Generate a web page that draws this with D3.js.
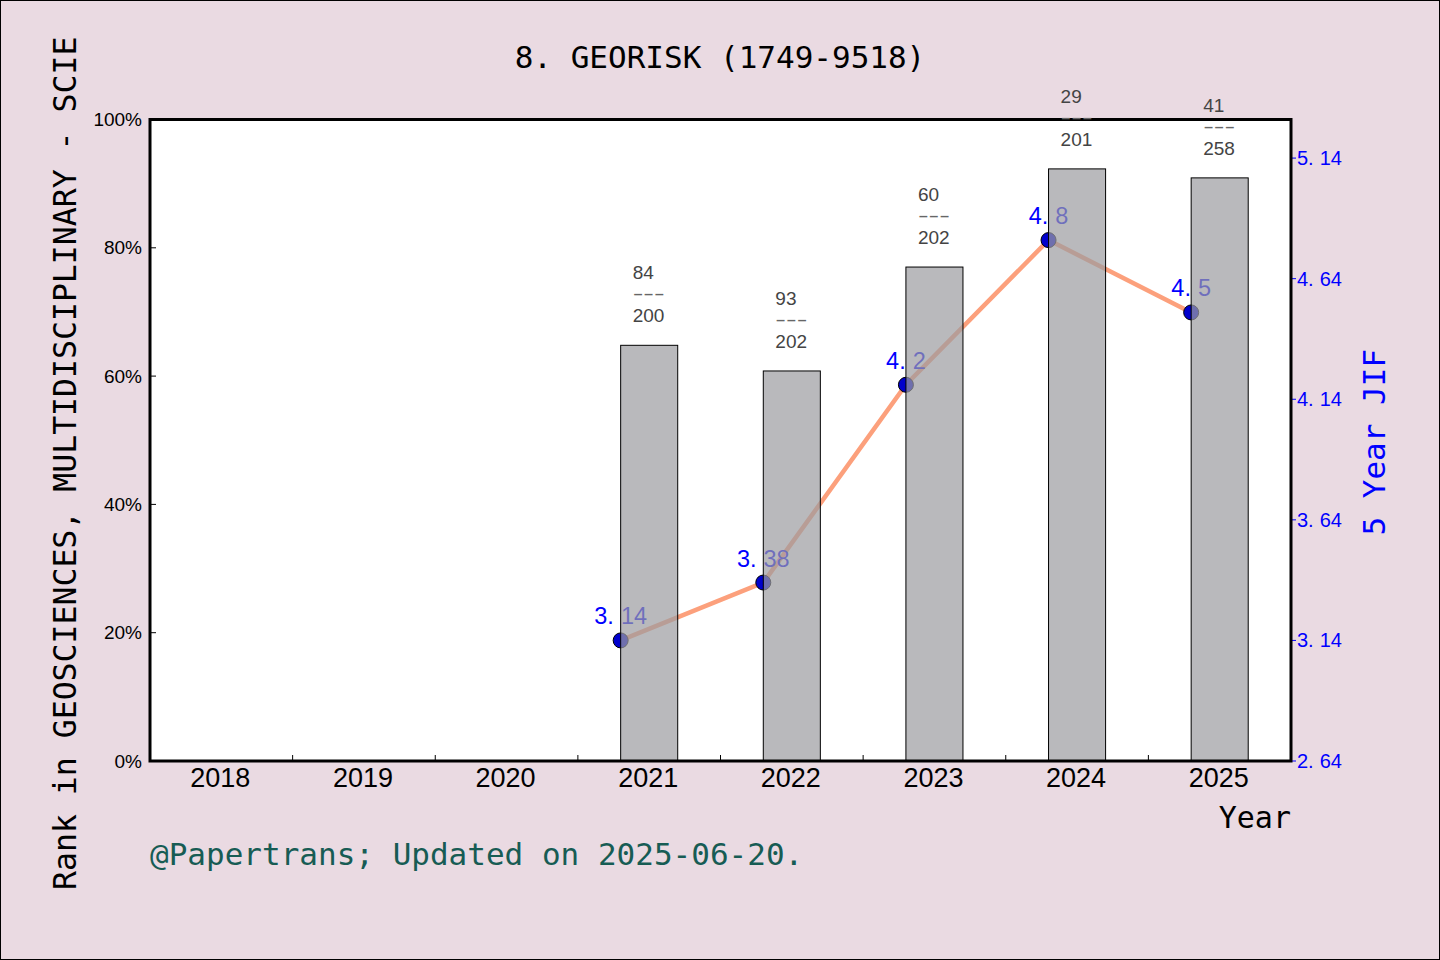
<!DOCTYPE html>
<html>
<head>
<meta charset="utf-8">
<script src="https://cdn.jsdelivr.net/npm/d3@7"></script>
<style>
    html, body { margin: 0; padding: 0; background: #eadae2; }
    svg { display: block; }
</style>
</head>
<body>
<svg id="chart"></svg>
<script>
// data
let years = ['2018', '2019', '2020', '2021', '2022', '2023', '2024', '2025'];
let barYears = ['2021', '2022', '2023', '2024', '2025'];
let rankShare = [0.648, 0.608, 0.770, 0.923, 0.909];
let ranks = ['84', '93', '60', '29', '41'];
let totals = ['200', '202', '202', '201', '258'];
let jif = [3.14, 3.38, 4.2, 4.8, 4.5];
let jifLabels = ['3.14', '3.38', '4.2', '4.8', '4.5'];
let leftTicks = [0, 0.2, 0.4, 0.6, 0.8, 1.0];
let rightTicks = [2.64, 3.14, 3.64, 4.14, 4.64, 5.14];
let rightDomain = [2.64, 5.3];

let W = 1440, H = 960;
let plot = {left: 150, right: 1291, top: 119.5, bottom: 761};
let mono = "'DejaVu Sans Mono', monospace";
let sans = "'Liberation Sans', Arial, sans-serif";

let svg = d3.select('#chart')
    .attr('width', W)
    .attr('height', H);

svg.append('rect')
    .attr('x', 0.5).attr('y', 0.5)
    .attr('width', W - 1).attr('height', H - 1)
    .attr('fill', '#eadae2')
    .attr('stroke', 'black');

svg.append('rect')
    .attr('x', plot.left).attr('y', plot.top)
    .attr('width', plot.right - plot.left)
    .attr('height', plot.bottom - plot.top)
    .attr('fill', 'white');

let xScale = d3.scaleBand()
    .domain(years)
    .range([plot.left, plot.right])
    .padding(0);

let yLeft = d3.scaleLinear().domain([0, 1]).range([plot.bottom, plot.top]);
let yRight = d3.scaleLinear().domain(rightDomain).range([plot.bottom, plot.top]);

let barW = xScale.bandwidth() * 0.4;
let center = d => xScale(d) + xScale.bandwidth() / 2;

// splits "3.14" so the period gets the wide gap seen in the picture
function dotted(sel, str, gap) {
    let parts = str.split('.');
    sel.append('tspan').text(parts[0] + '.');
    if (parts.length > 1) {
        sel.append('tspan').attr('dx', gap).text(parts[1]);
    }
}

// line + points (drawn under the translucent bars)
let pts = barYears.map((y, i) => ({year: y, v: jif[i], label: jifLabels[i]}));
let line = d3.line()
    .x(d => center(d.year) - barW / 2)
    .y(d => yRight(d.v));

svg.append('path')
    .datum(pts)
    .attr('d', line)
    .attr('fill', 'none')
    .attr('stroke', '#fca07c')
    .attr('stroke-width', 4.5);

svg.selectAll('.pt')
    .data(pts)
    .enter().append('circle')
    .attr('class', 'pt')
    .attr('cx', d => center(d.year) - barW / 2)
    .attr('cy', d => yRight(d.v))
    .attr('r', 7.5)
    .attr('fill', '#0000cd')
    .attr('stroke', 'black')
    .attr('stroke-width', 1);

svg.selectAll('.ptlabel')
    .data(pts)
    .enter().append('text')
    .attr('class', 'ptlabel')
    .attr('x', d => center(d.year) - barW / 2)
    .attr('y', d => yRight(d.v) - 16)
    .attr('text-anchor', 'middle')
    .attr('font-family', sans)
    .attr('font-size', 23.5)
    .attr('fill', '#0000ff')
    .each(function (d) { dotted(d3.select(this), d.label, 7); });

// bars
svg.selectAll('.bar')
    .data(barYears)
    .enter().append('rect')
    .attr('class', 'bar')
    .attr('x', d => center(d) - barW / 2)
    .attr('y', (d, i) => yLeft(rankShare[i]))
    .attr('width', barW)
    .attr('height', (d, i) => plot.bottom - yLeft(rankShare[i]))
    .attr('fill', 'rgba(156,157,160,0.71)')
    .attr('stroke', 'black')
    .attr('stroke-width', 1);

// left ticks
svg.selectAll('.lt')
    .data(leftTicks)
    .enter().append('line')
    .attr('x1', plot.left).attr('x2', plot.left + 6)
    .attr('y1', d => yLeft(d)).attr('y2', d => yLeft(d))
    .attr('stroke', 'black');

svg.selectAll('.ltl')
    .data(leftTicks)
    .enter().append('text')
    .attr('x', plot.left - 8)
    .attr('y', d => yLeft(d) + 6.5)
    .attr('text-anchor', 'end')
    .attr('font-family', sans)
    .attr('font-size', 19)
    .attr('fill', 'black')
    .text(d => Math.round(d * 100) + '%');

// right ticks
svg.selectAll('.rt')
    .data(rightTicks)
    .enter().append('line')
    .attr('x1', plot.right).attr('x2', plot.right + 5)
    .attr('y1', d => yRight(d)).attr('y2', d => yRight(d))
    .attr('stroke', '#0000ff');

svg.selectAll('.rtl')
    .data(rightTicks)
    .enter().append('text')
    .attr('x', plot.right + 6)
    .attr('y', d => yRight(d) + 7)
    .attr('font-family', sans)
    .attr('font-size', 20)
    .attr('fill', '#0000ff')
    .each(function (d) { dotted(d3.select(this), d.toFixed(2), 6); });

// x ticks at category boundaries, pointing inward
svg.selectAll('.xt')
    .data(years.slice(1))
    .enter().append('line')
    .attr('x1', d => xScale(d)).attr('x2', d => xScale(d))
    .attr('y1', plot.bottom).attr('y2', plot.bottom - 6)
    .attr('stroke', 'black');

svg.selectAll('.xtl')
    .data(years)
    .enter().append('text')
    .attr('x', d => center(d) - 1)
    .attr('y', plot.bottom + 26)
    .attr('text-anchor', 'middle')
    .attr('font-family', sans)
    .attr('font-size', 27)
    .attr('fill', 'black')
    .text(d => d);

// spines
svg.append('rect')
    .attr('x', plot.left).attr('y', plot.top)
    .attr('width', plot.right - plot.left)
    .attr('height', plot.bottom - plot.top)
    .attr('fill', 'none')
    .attr('stroke', 'black')
    .attr('stroke-width', 3);

// rank / total labels above bars (on top of the spines)
barYears.forEach(function (y, i) {
    let x0 = center(y) - 16.5;
    let top = yLeft(rankShare[i]);
    let g = svg.append('g').attr('font-family', sans).attr('font-size', 19);
    g.append('text')
        .attr('x', x0).attr('y', top - 66)
        .attr('fill', '#444')
        .text(ranks[i]);
    g.append('text')
        .attr('x', x0).attr('y', top - 45)
        .attr('fill', '#666')
        .attr('textLength', 32)
        .attr('lengthAdjust', 'spacingAndGlyphs')
        .text('---');
    g.append('text')
        .attr('x', x0).attr('y', top - 23)
        .attr('fill', '#444')
        .text(totals[i]);
});

// titles
svg.append('text')
    .attr('x', 720).attr('y', 68)
    .attr('text-anchor', 'middle')
    .attr('font-family', mono)
    .attr('font-size', 31)
    .attr('fill', 'black')
    .text('8. GEORISK (1749-9518)');

svg.append('text')
    .attr('transform', 'translate(76,890) rotate(-90)')
    .attr('font-family', mono)
    .attr('font-size', 31.5)
    .attr('fill', 'black')
    .text('Rank in GEOSCIENCES, MULTIDISCIPLINARY - SCIE');

svg.append('text')
    .attr('transform', 'translate(1385,' + ((plot.top + plot.bottom) / 2 + 2) + ') rotate(-90)')
    .attr('text-anchor', 'middle')
    .attr('font-family', mono)
    .attr('font-size', 31)
    .attr('fill', '#0000ff')
    .text('5 Year JIF');

svg.append('text')
    .attr('x', plot.right).attr('y', 828)
    .attr('text-anchor', 'end')
    .attr('font-family', mono)
    .attr('font-size', 30)
    .attr('fill', 'black')
    .text('Year');

svg.append('text')
    .attr('x', 150).attr('y', 865)
    .attr('font-family', mono)
    .attr('font-size', 31)
    .attr('fill', '#175c54')
    .text('@Papertrans; Updated on 2025-06-20.');
</script>
</body>
</html>
